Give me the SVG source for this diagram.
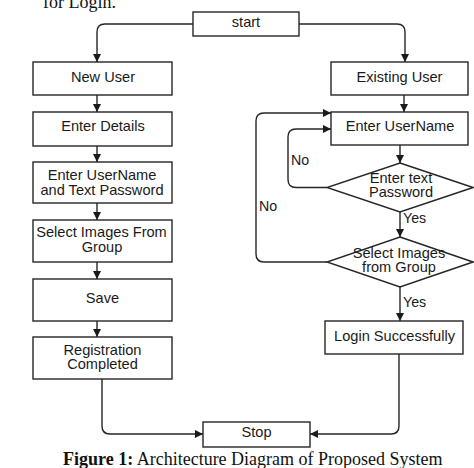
<svg xmlns="http://www.w3.org/2000/svg" width="474" height="468" viewBox="0 0 474 468">
<defs>
<style>
.box{fill:#fff;stroke:#262626;stroke-width:1.4}
.t{font-family:"Liberation Sans",Arial,sans-serif;font-size:14.6px;fill:#1a1a1a;text-anchor:middle}
.lbl{font-family:"Liberation Sans",Arial,sans-serif;font-size:14.2px;fill:#1a1a1a}
.c{fill:none;stroke:#262626;stroke-width:1.4;marker-end:url(#ah)}
.cap{font-family:"Liberation Serif","Times New Roman",serif;font-size:18px;fill:#111}
</style>
<marker id="ah" markerUnits="userSpaceOnUse" markerWidth="8" markerHeight="8" refX="8" refY="4" orient="auto">
<path d="M0,0 L8,4 L0,8 z" fill="#1a1a1a"/>
</marker>
</defs>
<rect width="474" height="468" fill="#fff"/>
<text class="cap" x="43" y="8">for Login.</text>

<g id="connectors">
<path class="c" d="M193,24 H105 Q97,24 97,32 V62"/>
<path class="c" d="M299,24 H397 Q405,24 405,32 V62"/>
<path class="c" d="M97,95 V112"/>
<path class="c" d="M404,95 V112"/>
<path class="c" d="M97,146 V162"/>
<path class="c" d="M400,145 V163"/>
<path class="c" d="M97,203 V220"/>
<path class="c" d="M97,262 V279"/>
<path class="c" d="M97,321 V337"/>
<path class="c" d="M400,212 V237"/>
<path class="c" d="M400,287 V321"/>
<path class="c" d="M102,379 V426 Q102,434 110,434 H203"/>
<path class="c" d="M399,354 V426 Q399,434 391,434 H310"/>
<path class="c" d="M327,187.5 H296 Q288,187.5 288,179.5 V137 Q288,129 296,129 H331"/>
<path class="c" d="M327,262 H264 Q256,262 256,254 V121 Q256,113 264,113 H331"/>
<text class="lbl" x="291" y="164.5">No</text>
<text class="lbl" x="259" y="211">No</text>
<text class="lbl" x="403" y="223">Yes</text>
<text class="lbl" x="403" y="306.5">Yes</text>
</g>

<g id="start"><rect class="box" x="193" y="12" width="106" height="24"/><text class="t" x="246" y="27">start</text></g>
<g id="new-user"><rect class="box" x="33" y="62" width="139" height="33"/><text class="t" x="103" y="81.5">New User</text></g>
<g id="enter-details"><rect class="box" x="33" y="112" width="139" height="34"/><text class="t" x="103" y="131">Enter Details</text></g>
<g id="enter-username-text-password"><rect class="box" x="33" y="162" width="139" height="41"/><text class="t" x="102" y="180">Enter UserName</text><text class="t" x="102" y="194.5">and Text Password</text></g>
<g id="select-images-left"><rect class="box" x="33" y="220" width="139" height="42"/><text class="t" x="101.5" y="237">Select Images From</text><text class="t" x="102" y="251.5">Group</text></g>
<g id="save"><rect class="box" x="33" y="279" width="139" height="42"/><text class="t" x="102.5" y="302.5">Save</text></g>
<g id="registration-completed"><rect class="box" x="33" y="337" width="139" height="42"/><text class="t" x="102.5" y="354.5">Registration</text><text class="t" x="102.5" y="369">Completed</text></g>
<g id="existing-user"><rect class="box" x="331" y="62" width="137" height="33"/><text class="t" x="399.5" y="81.5">Existing User</text></g>
<g id="enter-username"><rect class="box" x="331" y="112" width="137" height="33"/><text class="t" x="400" y="131">Enter UserName</text></g>
<g id="enter-text-password"><polygon class="box" points="400,163 473,187.5 400,212 327,187.5"/><text class="t" x="401" y="182.5">Enter text</text><text class="t" x="401" y="197">Password</text></g>
<g id="select-images-right"><polygon class="box" points="400,237 473,262 400,287 327,262"/><text class="t" x="399" y="257.5">Select Images</text><text class="t" x="399" y="272">from Group</text></g>
<g id="login-successfully"><rect class="box" x="325" y="321" width="138" height="33"/><text class="t" x="394.5" y="340.5">Login Successfully</text></g>
<g id="stop"><rect class="box" x="203" y="422" width="107" height="25"/><text class="t" x="256.5" y="437">Stop</text></g>

<text class="cap" x="63" y="465"><tspan font-weight="bold">Figure 1:</tspan> Architecture Diagram of Proposed System</text>
</svg>
